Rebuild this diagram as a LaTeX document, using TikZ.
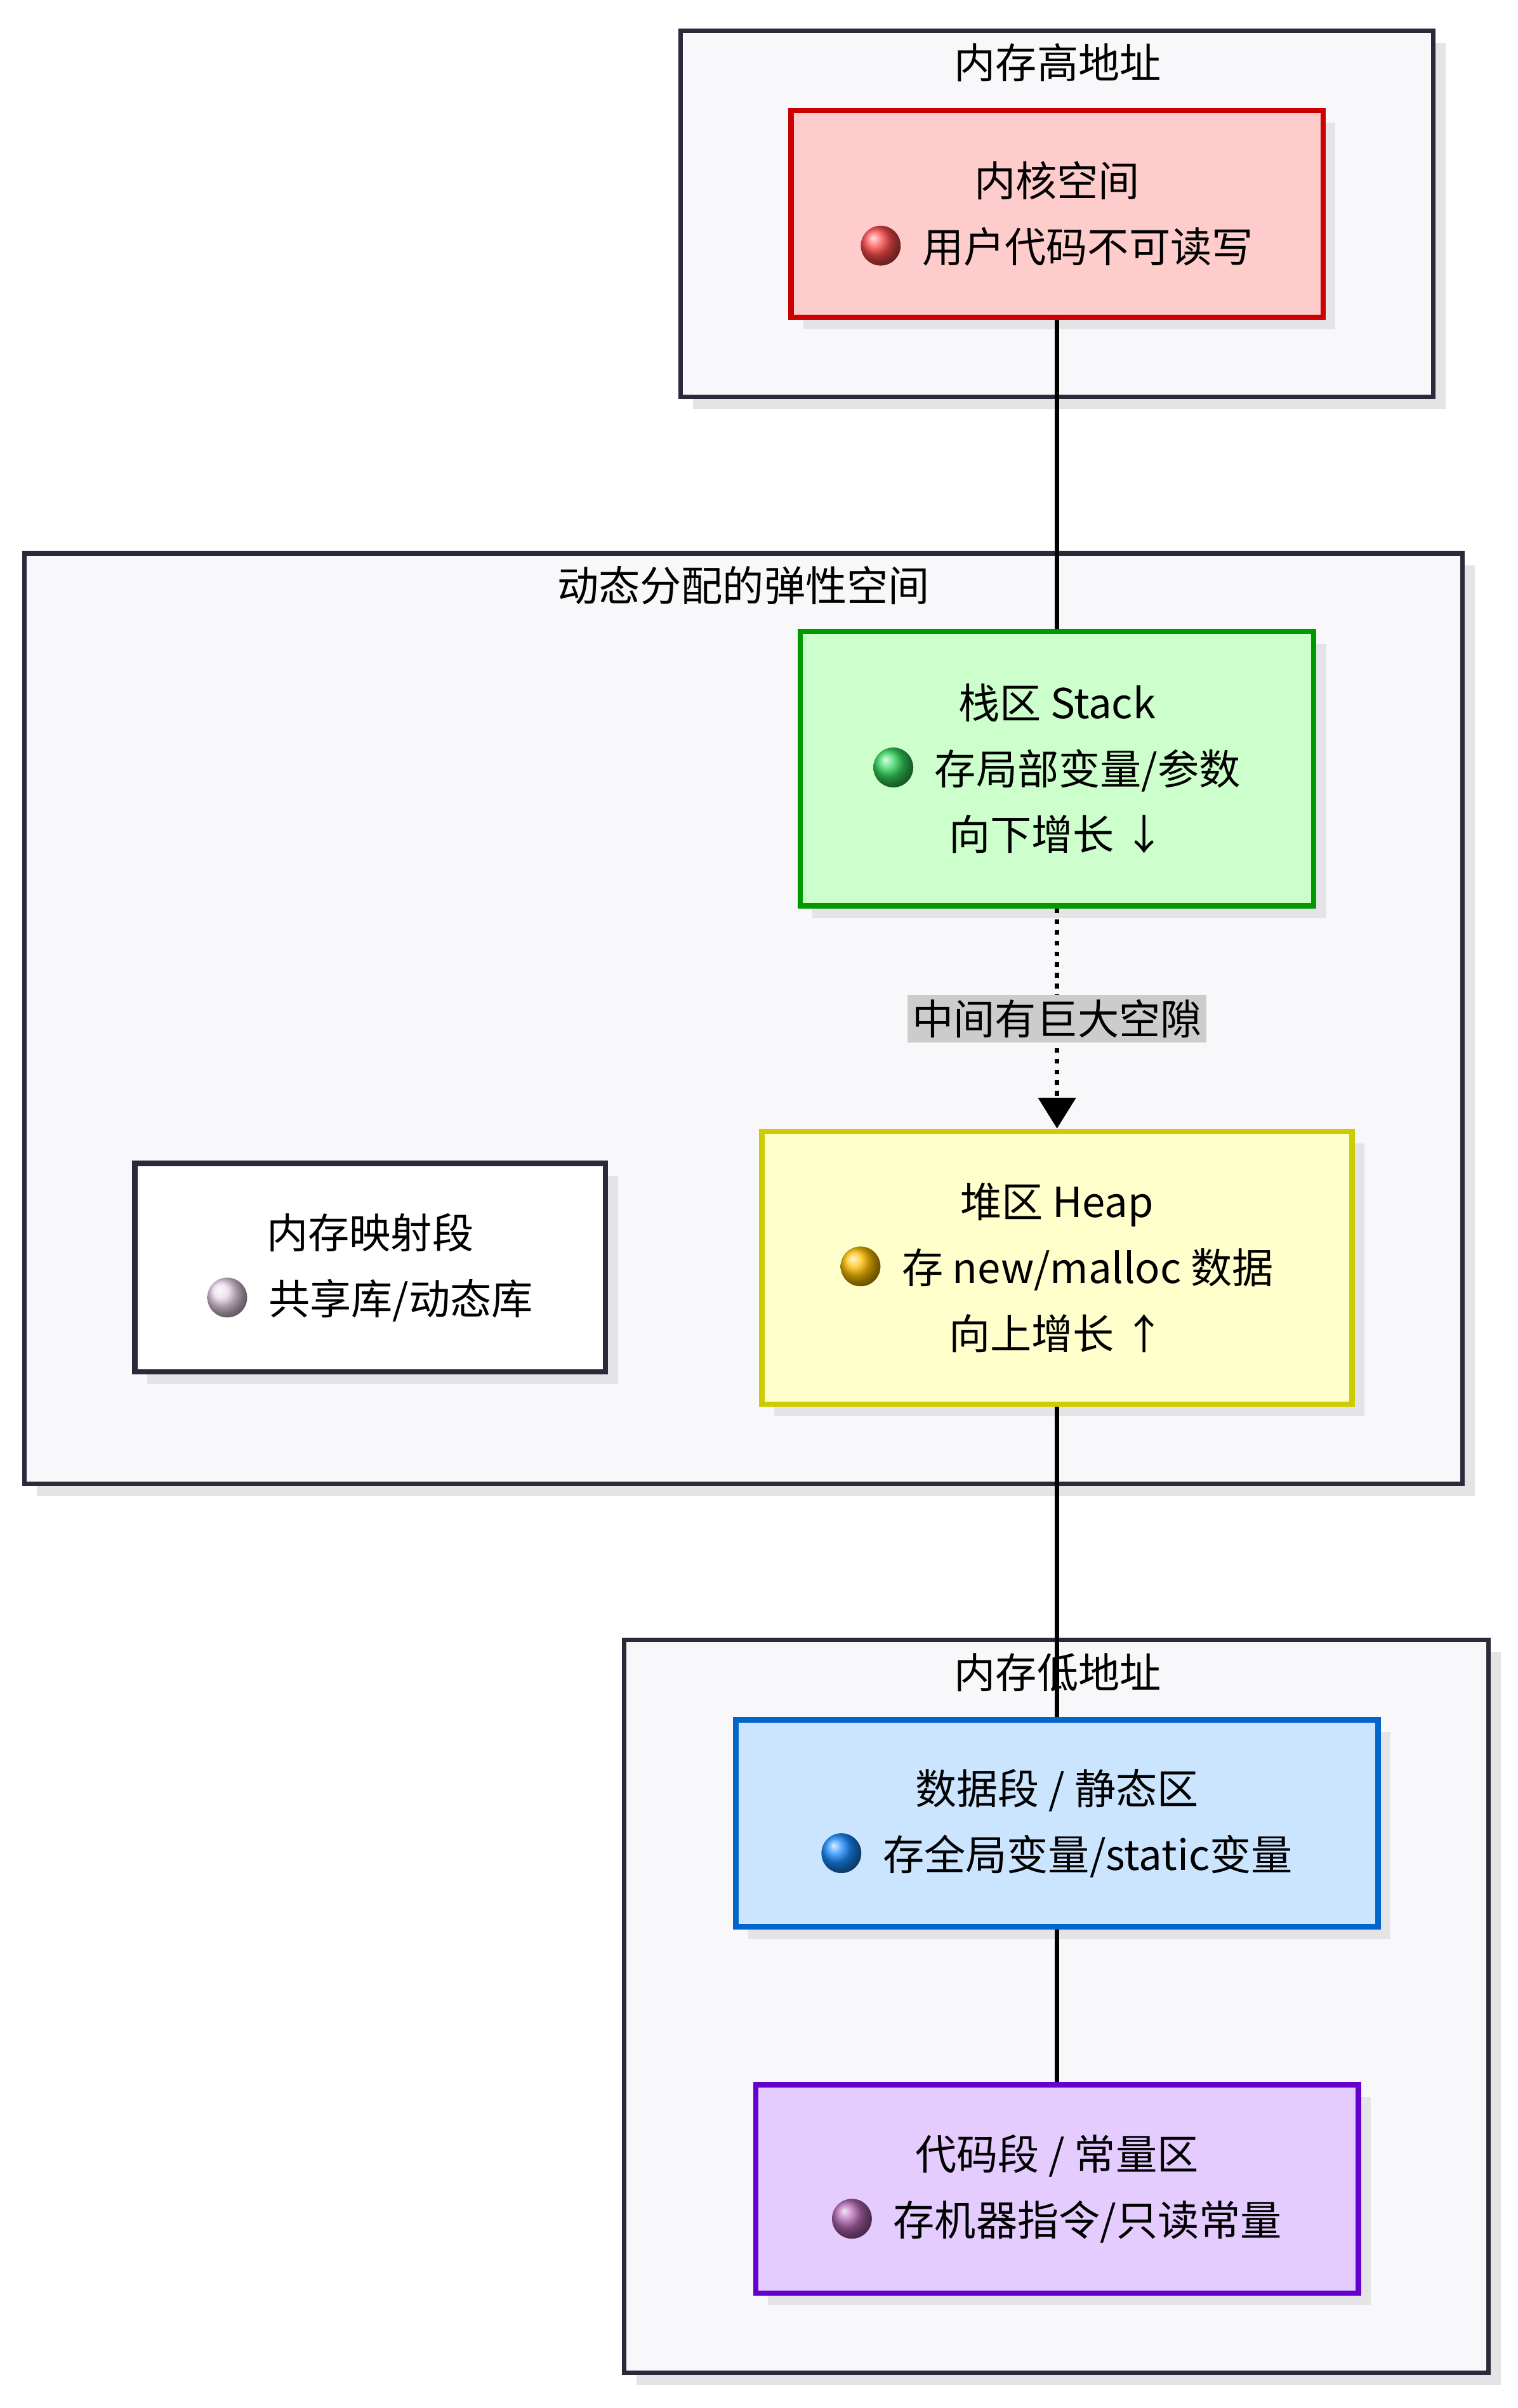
\documentclass[tikz,border=0pt]{standalone}
\usepackage{fontspec}
\setmainfont{Noto Sans CJK SC}
\usetikzlibrary{shadows,arrows.meta}
\definecolor{clbg}{HTML}{F8F8FA}
\definecolor{clbd}{HTML}{2A2A3A}
\definecolor{shd}{HTML}{E4E4E6}
\newcommand{\myball}[1]{\tikz[baseline=-0.75ex]\shade[ball color=#1] (0,0) circle (13pt);\hspace{14pt}}
\tikzset{
 sh/.style={general shadow={fill=shd, shadow xshift=8pt, shadow yshift=-8pt}},
 clus/.style={draw=clbd, line width=3pt, fill=clbg, sh, minimum width=#1},
 nbox/.style={line width=3.5pt, sh, align=center, font=\fontsize{27}{43}\selectfont, inner sep=0pt},
 ttl/.style={font=\fontsize{27}{30}\selectfont, text=black},
 link/.style={line width=3pt, black},
}
\begin{document}
\begin{tikzpicture}[x=1pt,y=-1pt]
\useasboundingbox[fill=white] (0,0) rectangle (990,1571);
% clusters
\node[clus=491pt, minimum height=239pt] (c1) at (689.5,139.5) {};
\node[ttl] (t1) at (690,41) {内存高地址};
\node[clus=938pt, minimum height=607pt] (c2) at (485,664.5) {};
\node[ttl] (t2) at (485,382) {动态分配的弹性空间};
\node[clus=564pt, minimum height=478pt] (c3) at (689,1309) {};
\node[ttl] (t3) at (690,1091) {内存低地址};
% nodes
\node[nbox, draw={rgb,255:red,204;green,0;blue,0}, fill={rgb,255:red,255;green,204;blue,204}, minimum width=347pt, minimum height=135pt] (k) at (689.5,139.5) {内核空间\\\myball{red!60!pink}用户代码不可读写};
\node[nbox, draw={rgb,255:red,0;green,153;blue,0}, fill={rgb,255:red,204;green,255;blue,204}, minimum width=335pt, minimum height=179pt] (s) at (689.5,501.5) {栈区 Stack\\\myball{green!60!teal!80}存局部变量/参数\\向下增长 ↓};
\node[nbox, draw={rgb,255:red,204;green,204;blue,0}, fill={rgb,255:red,255;green,255;blue,204}, minimum width=385pt, minimum height=178pt] (h) at (689.5,827) {堆区 Heap\\\myball{orange!50!yellow}存 new/malloc 数据\\向上增长 ↑};
\node[nbox, draw=clbd, fill=white, minimum width=307pt, minimum height=136pt] (m) at (241.5,827) {内存映射段\\\myball{violet!15}共享库/动态库};
\node[nbox, draw={rgb,255:red,0;green,102;blue,204}, fill={rgb,255:red,204;green,229;blue,255}, minimum width=419pt, minimum height=135pt] (d) at (689.5,1189.5) {数据段 / 静态区\\\myball{blue!50!cyan!90}存全局变量/static变量};
\node[nbox, draw={rgb,255:red,102;green,0;blue,204}, fill={rgb,255:red,229;green,204;blue,255}, minimum width=393pt, minimum height=136pt] (co) at (689.5,1428) {代码段 / 常量区\\\myball{violet!60}存机器指令/只读常量};
% links
\draw[link] (k.south) -- (s.north);
\draw[link, dash pattern=on 3pt off 4pt, -{Triangle[length=20pt,width=24pt]}] (s.south) -- node[fill={rgb,255:red,204;green,204;blue,204}, font=\fontsize{27}{30}\selectfont, inner sep=3pt] (lab) {中间有巨大空隙} (h.north);
\draw[link] (h.south) -- (d.north);
\draw[link] (d.south) -- (co.north);
\end{tikzpicture}
\end{document}
